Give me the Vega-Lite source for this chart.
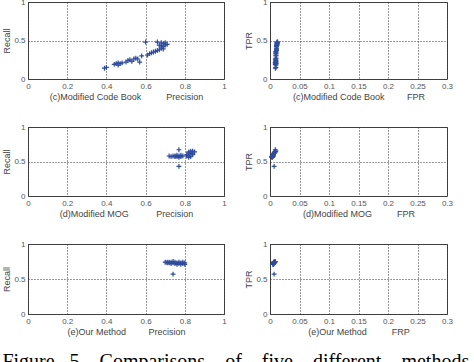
{
  "$schema": "https://vega.github.io/schema/vega-lite/v6.json",
  "padding": {"left": 2, "top": -3, "right": 0, "bottom": 0},
  "background": "white",
  "datasets": {
    "pts": [
      {"method": "c", "precision": 0.39, "recall": 0.14, "fpr": 0.009},
      {"method": "c", "precision": 0.40, "recall": 0.15, "fpr": 0.010},
      {"method": "c", "precision": 0.44, "recall": 0.19, "fpr": 0.009},
      {"method": "c", "precision": 0.45, "recall": 0.20, "fpr": 0.010},
      {"method": "c", "precision": 0.46, "recall": 0.18, "fpr": 0.010},
      {"method": "c", "precision": 0.46, "recall": 0.21, "fpr": 0.009},
      {"method": "c", "precision": 0.47, "recall": 0.20, "fpr": 0.010},
      {"method": "c", "precision": 0.48, "recall": 0.21, "fpr": 0.010},
      {"method": "c", "precision": 0.50, "recall": 0.22, "fpr": 0.010},
      {"method": "c", "precision": 0.51, "recall": 0.24, "fpr": 0.010},
      {"method": "c", "precision": 0.52, "recall": 0.25, "fpr": 0.009},
      {"method": "c", "precision": 0.53, "recall": 0.23, "fpr": 0.010},
      {"method": "c", "precision": 0.54, "recall": 0.26, "fpr": 0.010},
      {"method": "c", "precision": 0.55, "recall": 0.27, "fpr": 0.010},
      {"method": "c", "precision": 0.56, "recall": 0.26, "fpr": 0.010},
      {"method": "c", "precision": 0.57, "recall": 0.22, "fpr": 0.009},
      {"method": "c", "precision": 0.58, "recall": 0.30, "fpr": 0.010},
      {"method": "c", "precision": 0.61, "recall": 0.31, "fpr": 0.010},
      {"method": "c", "precision": 0.60, "recall": 0.48, "fpr": 0.013},
      {"method": "c", "precision": 0.62, "recall": 0.33, "fpr": 0.010},
      {"method": "c", "precision": 0.63, "recall": 0.34, "fpr": 0.010},
      {"method": "c", "precision": 0.64, "recall": 0.35, "fpr": 0.010},
      {"method": "c", "precision": 0.65, "recall": 0.36, "fpr": 0.010},
      {"method": "c", "precision": 0.66, "recall": 0.37, "fpr": 0.011},
      {"method": "c", "precision": 0.66, "recall": 0.48, "fpr": 0.012},
      {"method": "c", "precision": 0.67, "recall": 0.44, "fpr": 0.011},
      {"method": "c", "precision": 0.67, "recall": 0.38, "fpr": 0.011},
      {"method": "c", "precision": 0.68, "recall": 0.40, "fpr": 0.011},
      {"method": "c", "precision": 0.68, "recall": 0.47, "fpr": 0.012},
      {"method": "c", "precision": 0.68, "recall": 0.43, "fpr": 0.011},
      {"method": "c", "precision": 0.69, "recall": 0.42, "fpr": 0.011},
      {"method": "c", "precision": 0.69, "recall": 0.46, "fpr": 0.012},
      {"method": "c", "precision": 0.69, "recall": 0.39, "fpr": 0.011},
      {"method": "c", "precision": 0.70, "recall": 0.44, "fpr": 0.012},
      {"method": "c", "precision": 0.70, "recall": 0.47, "fpr": 0.012},
      {"method": "c", "precision": 0.71, "recall": 0.45, "fpr": 0.012},
      {"method": "d", "precision": 0.72, "recall": 0.58, "fpr": 0.004},
      {"method": "d", "precision": 0.73, "recall": 0.57, "fpr": 0.003},
      {"method": "d", "precision": 0.74, "recall": 0.58, "fpr": 0.004},
      {"method": "d", "precision": 0.75, "recall": 0.57, "fpr": 0.003},
      {"method": "d", "precision": 0.75, "recall": 0.58, "fpr": 0.004},
      {"method": "d", "precision": 0.76, "recall": 0.57, "fpr": 0.004},
      {"method": "d", "precision": 0.76, "recall": 0.59, "fpr": 0.005},
      {"method": "d", "precision": 0.77, "recall": 0.56, "fpr": 0.003},
      {"method": "d", "precision": 0.77, "recall": 0.58, "fpr": 0.004},
      {"method": "d", "precision": 0.78, "recall": 0.57, "fpr": 0.004},
      {"method": "d", "precision": 0.78, "recall": 0.59, "fpr": 0.005},
      {"method": "d", "precision": 0.79, "recall": 0.58, "fpr": 0.005},
      {"method": "d", "precision": 0.77, "recall": 0.67, "fpr": 0.009},
      {"method": "d", "precision": 0.77, "recall": 0.43, "fpr": 0.007},
      {"method": "d", "precision": 0.81, "recall": 0.58, "fpr": 0.005},
      {"method": "d", "precision": 0.81, "recall": 0.60, "fpr": 0.006},
      {"method": "d", "precision": 0.82, "recall": 0.59, "fpr": 0.005},
      {"method": "d", "precision": 0.82, "recall": 0.62, "fpr": 0.007},
      {"method": "d", "precision": 0.82, "recall": 0.64, "fpr": 0.008},
      {"method": "d", "precision": 0.82, "recall": 0.56, "fpr": 0.004},
      {"method": "d", "precision": 0.83, "recall": 0.57, "fpr": 0.005},
      {"method": "d", "precision": 0.83, "recall": 0.61, "fpr": 0.006},
      {"method": "d", "precision": 0.83, "recall": 0.63, "fpr": 0.008},
      {"method": "d", "precision": 0.83, "recall": 0.65, "fpr": 0.010},
      {"method": "d", "precision": 0.84, "recall": 0.60, "fpr": 0.006},
      {"method": "d", "precision": 0.84, "recall": 0.62, "fpr": 0.007},
      {"method": "d", "precision": 0.84, "recall": 0.65, "fpr": 0.009},
      {"method": "d", "precision": 0.85, "recall": 0.64, "fpr": 0.009},
      {"method": "e", "precision": 0.70, "recall": 0.74, "fpr": 0.006},
      {"method": "e", "precision": 0.71, "recall": 0.74, "fpr": 0.007},
      {"method": "e", "precision": 0.71, "recall": 0.73, "fpr": 0.006},
      {"method": "e", "precision": 0.72, "recall": 0.74, "fpr": 0.007},
      {"method": "e", "precision": 0.72, "recall": 0.73, "fpr": 0.006},
      {"method": "e", "precision": 0.73, "recall": 0.74, "fpr": 0.008},
      {"method": "e", "precision": 0.73, "recall": 0.72, "fpr": 0.006},
      {"method": "e", "precision": 0.74, "recall": 0.73, "fpr": 0.007},
      {"method": "e", "precision": 0.74, "recall": 0.75, "fpr": 0.009},
      {"method": "e", "precision": 0.75, "recall": 0.72, "fpr": 0.006},
      {"method": "e", "precision": 0.75, "recall": 0.74, "fpr": 0.008},
      {"method": "e", "precision": 0.76, "recall": 0.71, "fpr": 0.005},
      {"method": "e", "precision": 0.76, "recall": 0.73, "fpr": 0.007},
      {"method": "e", "precision": 0.77, "recall": 0.72, "fpr": 0.006},
      {"method": "e", "precision": 0.77, "recall": 0.74, "fpr": 0.008},
      {"method": "e", "precision": 0.78, "recall": 0.71, "fpr": 0.005},
      {"method": "e", "precision": 0.78, "recall": 0.73, "fpr": 0.007},
      {"method": "e", "precision": 0.79, "recall": 0.72, "fpr": 0.006},
      {"method": "e", "precision": 0.79, "recall": 0.74, "fpr": 0.008},
      {"method": "e", "precision": 0.80, "recall": 0.73, "fpr": 0.007},
      {"method": "e", "precision": 0.80, "recall": 0.71, "fpr": 0.006},
      {"method": "e", "precision": 0.74, "recall": 0.57, "fpr": 0.007}
    ]
  },
  "data": {"name": "pts"},
  "spacing": 20,
  "vconcat": [
    {
      "spacing": 17,
      "hconcat": [
        {
          "width": 196, "height": 77,
          "transform": [{"filter": "datum.method == 'c'"}],
          "mark": {"type": "point", "shape": "M-1,0H1M0,-1V1", "filled": false, "strokeWidth": 1.2, "size": 24, "color": "#2f4c9e", "opacity": 1},
          "encoding": {
            "x": {"field": "precision", "type": "quantitative", "scale": {"domain": [0, 1], "nice": false, "zero": false}, "axis": {"values": [0, 0.2, 0.4, 0.6, 0.8, 1], "title": "(c)Modified Code Book\u00a0\u00a0\u00a0\u00a0\u00a0\u00a0\u00a0\u00a0\u00a0\u00a0Precision"}},
            "y": {"field": "recall", "type": "quantitative", "scale": {"domain": [0, 1], "nice": false}, "axis": {"values": [0, 0.5, 1], "title": "Recall"}}
          }
        },
        {
          "width": 177, "height": 77,
          "transform": [{"filter": "datum.method == 'c'"}],
          "mark": {"type": "point", "shape": "M-1,0H1M0,-1V1", "filled": false, "strokeWidth": 1.2, "size": 24, "color": "#2f4c9e", "opacity": 1},
          "encoding": {
            "x": {"field": "fpr", "type": "quantitative", "scale": {"domain": [0, 0.3], "nice": false, "zero": false}, "axis": {"values": [0, 0.05, 0.1, 0.15, 0.2, 0.25, 0.3], "title": "(c)Modified Code Book\u00a0\u00a0\u00a0\u00a0\u00a0\u00a0\u00a0\u00a0\u00a0FPR"}},
            "y": {"field": "recall", "type": "quantitative", "scale": {"domain": [0, 1], "nice": false}, "axis": {"values": [0, 0.5, 1], "title": "TPR"}}
          }
        }
      ]
    },
    {
      "spacing": 17,
      "hconcat": [
        {
          "width": 196, "height": 69,
          "transform": [{"filter": "datum.method == 'd'"}],
          "mark": {"type": "point", "shape": "M-1,0H1M0,-1V1", "filled": false, "strokeWidth": 1.2, "size": 24, "color": "#2f4c9e", "opacity": 1},
          "encoding": {
            "x": {"field": "precision", "type": "quantitative", "scale": {"domain": [0, 1], "nice": false, "zero": false}, "axis": {"values": [0, 0.2, 0.4, 0.6, 0.8, 1], "title": "(d)Modified MOG\u00a0\u00a0\u00a0\u00a0\u00a0\u00a0\u00a0\u00a0\u00a0\u00a0\u00a0Precision"}},
            "y": {"field": "recall", "type": "quantitative", "scale": {"domain": [0, 1], "nice": false}, "axis": {"values": [0, 0.5, 1], "title": "Recall"}}
          }
        },
        {
          "width": 177, "height": 69,
          "transform": [{"filter": "datum.method == 'd'"}],
          "mark": {"type": "point", "shape": "M-1,0H1M0,-1V1", "filled": false, "strokeWidth": 1.2, "size": 24, "color": "#2f4c9e", "opacity": 1},
          "encoding": {
            "x": {"field": "fpr", "type": "quantitative", "scale": {"domain": [0, 0.3], "nice": false, "zero": false}, "axis": {"values": [0, 0.05, 0.1, 0.15, 0.2, 0.25, 0.3], "title": "(d)Modified MOG\u00a0\u00a0\u00a0\u00a0\u00a0\u00a0\u00a0\u00a0\u00a0\u00a0FPR"}},
            "y": {"field": "recall", "type": "quantitative", "scale": {"domain": [0, 1], "nice": false}, "axis": {"values": [0, 0.5, 1], "title": "TPR"}}
          }
        }
      ]
    },
    {
      "spacing": 17,
      "hconcat": [
        {
          "width": 196, "height": 70,
          "transform": [{"filter": "datum.method == 'e'"}],
          "mark": {"type": "point", "shape": "M-1,0H1M0,-1V1", "filled": false, "strokeWidth": 1.2, "size": 24, "color": "#2f4c9e", "opacity": 1},
          "encoding": {
            "x": {"field": "precision", "type": "quantitative", "scale": {"domain": [0, 1], "nice": false, "zero": false}, "axis": {"values": [0, 0.2, 0.4, 0.6, 0.8, 1], "title": "(e)Our Method\u00a0\u00a0\u00a0\u00a0\u00a0\u00a0\u00a0\u00a0\u00a0Precision"}},
            "y": {"field": "recall", "type": "quantitative", "scale": {"domain": [0, 1], "nice": false}, "axis": {"values": [0, 0.5, 1], "title": "Recall"}}
          }
        },
        {
          "width": 177, "height": 70,
          "transform": [{"filter": "datum.method == 'e'"}],
          "mark": {"type": "point", "shape": "M-1,0H1M0,-1V1", "filled": false, "strokeWidth": 1.2, "size": 24, "color": "#2f4c9e", "opacity": 1},
          "encoding": {
            "x": {"field": "fpr", "type": "quantitative", "scale": {"domain": [0, 0.3], "nice": false, "zero": false}, "axis": {"values": [0, 0.05, 0.1, 0.15, 0.2, 0.25, 0.3], "title": "(e)Our Method\u00a0\u00a0\u00a0\u00a0\u00a0\u00a0\u00a0\u00a0\u00a0\u00a0FRP"}},
            "y": {"field": "recall", "type": "quantitative", "scale": {"domain": [0, 1], "nice": false}, "axis": {"values": [0, 0.5, 1], "title": "TPR"}}
          }
        }
      ]
    }
  ],
  "title": {
    "text": "Figure\u00a0\u00a0\u00a05.\u00a0\u00a0\u00a0Comparisons\u00a0\u00a0\u00a0\u00a0of\u00a0\u00a0\u00a0\u00a0five\u00a0\u00a0\u00a0\u00a0different\u00a0\u00a0\u00a0\u00a0methods\u00a0\u00a0\u00a0\u00a0used",
    "orient": "bottom",
    "anchor": "start",
    "font": "Liberation Serif",
    "fontSize": 20,
    "fontWeight": "normal",
    "color": "#000",
    "offset": 15
  },
  "config": {
    "font": "Liberation Sans",
    "view": {"stroke": "#444", "strokeWidth": 1},
    "axis": {
      "labelFont": "Liberation Sans", "labelFontSize": 8, "labelColor": "#555",
      "titleFont": "Liberation Sans", "titleFontSize": 9, "titleFontWeight": "normal", "titleColor": "#444",
      "domain": false, "ticks": false, "grid": true, "gridColor": "#333", "gridDash": [1, 2], "gridOpacity": 1, "gridWidth": 1,
      "labelPadding": 3, "titlePadding": 2, "labelFlush": false, "labelOverlap": false,
      "labelExpr": "'' + datum.value"
    },
    "axisX": {"labelAngle": 0}
  }
}
